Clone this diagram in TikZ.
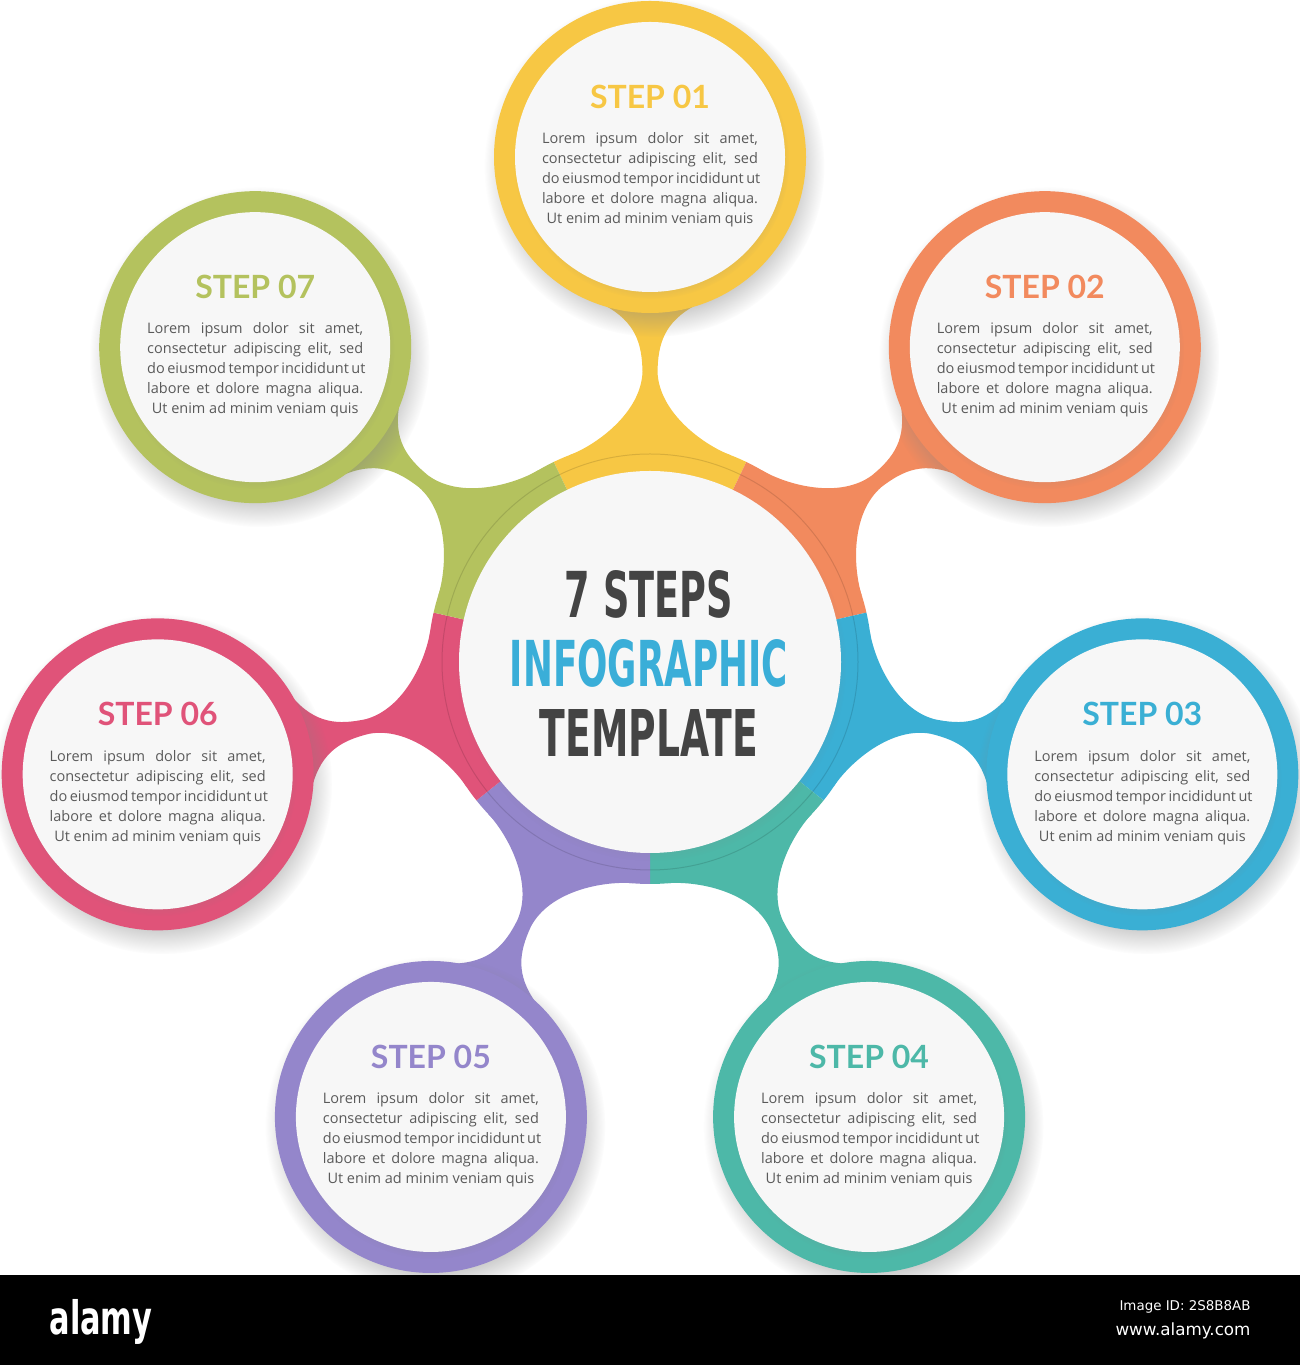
\documentclass[tikz,border=0pt]{standalone}
\usepackage{fontspec}
\usepackage{graphicx}
\usetikzlibrary{shadows}
\newfontfamily\headfont{Lato}
\newfontfamily\bodyfont{Open Sans}
\newfontfamily\bigfont{DejaVu Sans}
\definecolor{cA}{HTML}{F7C744}
\definecolor{cB}{HTML}{F28A5E}
\definecolor{cC}{HTML}{3AAFD4}
\definecolor{cD}{HTML}{4DB8A8}
\definecolor{cE}{HTML}{9486CB}
\definecolor{cF}{HTML}{E05379}
\definecolor{cG}{HTML}{B4C25E}
\definecolor{face}{HTML}{F7F7F7}
\definecolor{bodygray}{HTML}{5A5A5A}
\definecolor{titlegray}{HTML}{444444}
\definecolor{titleblue}{HTML}{3AAED8}
\newcommand\loremtext{%
\makebox[216pt][s]{Lorem ipsum dolor sit amet,}\\
\makebox[216pt][s]{consectetur adipiscing elit, sed}\\
\makebox[216pt][s]{do eiusmod tempor incididunt ut}\\
\makebox[216pt][s]{labore et dolore magna aliqua.}\\
Ut enim ad minim veniam quis}
\tikzset{
  stepring/.style={circle, inner sep=0pt, minimum size=312pt, fill=#1,
    circular drop shadow={shadow xshift=4pt, shadow yshift=-9pt, opacity=0.38, shadow scale=1.09}},
  stepface/.style={circle, inner sep=0pt, minimum size=270pt, fill=face,
    circular drop shadow={shadow xshift=1.5pt, shadow yshift=-4pt, opacity=0.3, shadow scale=1.02}},
  stephead/.style={font=\headfont\bfseries\fontsize{32}{36}\selectfont, text=#1, inner sep=0pt},
  stepbody/.style={font=\bodyfont\fontsize{14.5}{20}\selectfont, text=bodygray, align=center, inner sep=0pt},
  bigtitle/.style={inner sep=0pt, text=#1},
  wm/.style={inner sep=0pt, text=white},
}
\begin{document}
\begin{tikzpicture}[x=1pt,y=1pt]
\useasboundingbox (0,0) rectangle (1300,1365);
\fill[white] (0,0) rectangle (1300,1365);
\begin{scope}[shift={(650,703)}]
  % stems and centre ring sectors
  \foreach \k/\c in {0/cA,1/cB,2/cC,3/cD,4/cE,5/cF,6/cG}{
    \pgfmathsetmacro{\ang}{90-\k*360/7}
    \begin{scope}[rotate=\ang]
      \fill[\c] (207,80) .. controls (218,52) and (250,9) .. (290,7.5)
        .. controls (318,8) and (340,14) .. (357,46) -- (357,-46)
        .. controls (340,-14) and (318,-8) .. (290,-7.5)
        .. controls (250,-9) and (218,-52) .. (207,-80) -- cycle;
      \fill[\c] (-25.714:222) arc[start angle=-25.714, end angle=25.714, radius=222pt]
        -- (25.714:180) arc[start angle=25.714, end angle=-25.714, radius=180pt] -- cycle;
    \end{scope}
  }
  \draw[black, opacity=0.12, line width=1pt] (0,0) circle[radius=208pt];
  \node[circle, inner sep=0pt, minimum size=382pt, fill=face,
    circular drop shadow={shadow xshift=1.5pt, shadow yshift=-4pt, opacity=0.3, shadow scale=1.02}] (hub) at (0,0) {};
  % step circles
  \foreach \k/\c/\n in {0/cA/1,1/cB/2,2/cC/3,3/cD/4,4/cE/5,5/cF/6,6/cG/7}{
    \pgfmathsetmacro{\ang}{90-\k*360/7}
    \node[stepring=\c] (ring\n) at (\ang:505) {};
    \node[stepface] (face\n) at (\ang:505) {};
    \node[stephead=\c, yshift=60pt] (head\n) at (\ang:505) {STEP 0\n};
    \node[stepbody, yshift=-23pt] (body\n) at (\ang:505) {\loremtext};
  }
\end{scope}
% centre title
\node[bigtitle=titlegray] (t1) at (649,771) {\resizebox{168pt}{47pt}{\bigfont\bfseries 7 STEPS}};
\node[bigtitle=titleblue] (t2) at (649,702) {\resizebox{278pt}{47pt}{\bigfont\bfseries INFOGRAPHIC}};
\node[bigtitle=titlegray] (t3) at (649,632) {\resizebox{218pt}{47pt}{\bigfont\bfseries TEMPLATE}};
% watermark bar
\fill[black] (0,0) rectangle (1300,90);
\node[wm] (logo) at (101,43) {\resizebox*{103pt}{45pt}{\bigfont\bfseries alamy}};
\node[wm] (imgid) at (1185,58) {\resizebox{131pt}{!}{\bigfont Image ID: 2S8B8AB}};
\node[wm] (url) at (1183,34) {\resizebox{135pt}{!}{\bigfont www.alamy.com}};
\end{tikzpicture}
\end{document}
